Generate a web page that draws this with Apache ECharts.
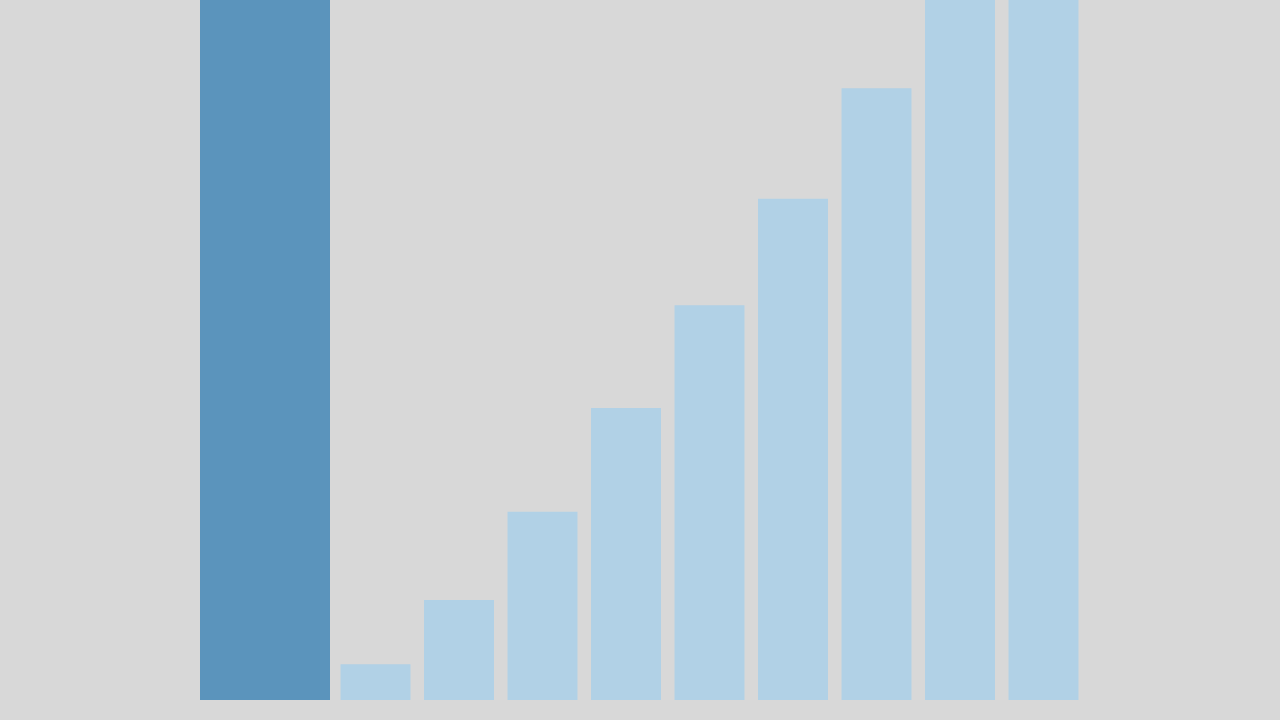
<!DOCTYPE html>
<html>
<head>
<meta charset="utf-8">
<script src="https://cdn.jsdelivr.net/npm/echarts@6/dist/echarts.min.js"></script>
<style>
html,body{margin:0;padding:0;background:#d8d8d8;}
#chart{width:1280px;height:720px;}
</style>
</head>
<body>
<div id="chart"></div>
<script>
// Data (y scale 0..100 visible; taller bars are clipped at the top)
const highlightCategories = ['A'];
const highlightValues = [140];
const categories = ['B', 'C', 'D', 'E', 'F', 'G', 'H', 'I', 'J'];
const values = [5.1, 14.3, 26.9, 41.7, 56.4, 71.6, 87.4, 110, 125];
const yMax = 100;

const chart = echarts.init(document.getElementById('chart'));
chart.setOption({
  backgroundColor: '#d8d8d8',
  animation: false,
  grid: [
    { left: 200, width: 130, top: 0, bottom: 20 },
    { left: 333.75, width: 751.5, top: 0, bottom: 20 }
  ],
  xAxis: [
    { type: 'category', gridIndex: 0, data: highlightCategories, show: false },
    { type: 'category', gridIndex: 1, data: categories, show: false }
  ],
  yAxis: [
    { type: 'value', gridIndex: 0, min: 0, max: yMax, show: false },
    { type: 'value', gridIndex: 1, min: 0, max: yMax, show: false }
  ],
  series: [
    {
      type: 'bar', xAxisIndex: 0, yAxisIndex: 0, data: highlightValues,
      barWidth: '100%', clip: true,
      itemStyle: { color: '#5b94bc' }
    },
    {
      type: 'bar', xAxisIndex: 1, yAxisIndex: 1, data: values,
      barWidth: 70, clip: true,
      itemStyle: { color: '#b1d1e6' }
    }
  ]
});
</script>
</body>
</html>
